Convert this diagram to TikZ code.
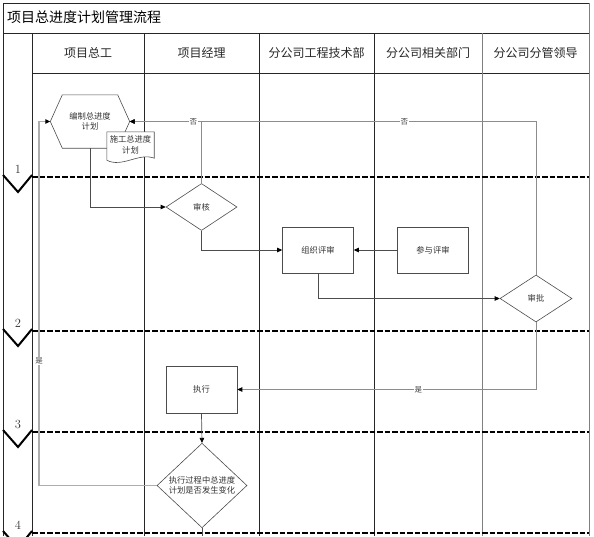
\documentclass[tikz,border=0pt]{standalone}
\usepackage{fontspec}
\newfontfamily\cjk{Noto Sans CJK SC}
\usetikzlibrary{arrows.meta,shapes.geometric}
\begin{document}
\begin{tikzpicture}[x=1pt,y=-1pt,
  lane/.style={draw=black!85,line width=0.8pt},
  lanegray/.style={draw=black!50,line width=0.8pt},
  phase/.style={line width=2.8pt,dash pattern=on 5.5pt off 2pt},
  chev/.style={line width=2pt,line join=miter},
  txt/.style={font=\cjk\fontsize{8.3}{10.5}\selectfont,text=black!80,align=center},
  box/.style={txt,draw=black!70,line width=0.6pt,minimum width=71pt,minimum height=46pt,inner sep=0pt},
  dia/.style={txt,diamond,draw=black!70,line width=0.6pt,inner sep=0pt},
  tip/.style={-{Triangle[length=5pt,width=4.5pt,color=black]}},
  conn/.style={tip,draw=black!70,line width=0.7pt},
  back/.style={tip,draw=black!45,line width=0.7pt},
  backL/.style={tip,draw=black!32,line width=1.5pt},
  lbl/.style={fill=white,inner sep=0.8pt,font=\cjk\fontsize{7.5}{9}\selectfont,text=black!75},
  head/.style={font=\cjk\fontsize{12}{14}\selectfont,text=black!85}
]
\useasboundingbox (0,0) rectangle (594,536);
% frame and lanes
\draw[lane] (3,536) -- (3,3) -- (589,3);
\draw[lanegray] (589,3) -- (589,536);
\draw[lane] (3,33) -- (589,33);
\draw[lane] (32,73) -- (589,73);
\foreach \x in {32,144,259,374} \draw[lane] (\x,33) -- (\x,536);
\draw[lanegray] (482,33) -- (482,536);
\node[anchor=west,font=\cjk\fontsize{14}{16}\selectfont,inner sep=0pt] (title) at (7,17.5) {项目总进度计划管理流程};
\node[head] (h1) at (88,53) {项目总工};
\node[head] (h2) at (201.5,53) {项目经理};
\node[head] (h3) at (316.5,53) {分公司工程技术部};
\node[head] (h4) at (428,53) {分公司相关部门};
\node[head] (h5) at (535.5,53) {分公司分管领导};
% phase separators
\foreach \y/\n in {177/1,331/2,432/3,533/4}{
  \draw[phase] (32,\y) -- (589,\y);
  \draw[chev] (3,\y-2) -- (18,\y+15) -- (32,\y-2);
  \node[anchor=south,font=\fontsize{12.5}{13}\selectfont,inner sep=0pt,text=black!80] (n\n) at (18,\y-3) {\n};
}
% hexagon
\node[txt,minimum width=79pt,minimum height=53pt,inner sep=0pt] (hex) at (90,121.5) {编制总进度\\计划};
\draw[draw=black!70,line width=0.6pt] (hex.west) -- ([xshift=12pt]hex.north west) -- ([xshift=-12pt]hex.north east) -- (hex.east) -- ([xshift=-12pt]hex.south east) -- ([xshift=12pt]hex.south west) -- cycle;
% document
\node[minimum width=47pt,minimum height=30pt,inner sep=0pt] (doc) at (130.5,147) {};
\filldraw[fill=white,draw=black!70,line width=0.6pt] ([yshift=2pt]doc.south west) -- (doc.north west) -- (doc.north east) -- ([yshift=4pt]doc.south east) .. controls ([xshift=-15pt,yshift=10pt]doc.south east) and ([xshift=15pt,yshift=-6pt]doc.south west) .. ([yshift=2pt]doc.south west);
\node[txt] (docT) at (130.5,145) {施工总进度\\计划};
% other nodes
\node[dia,minimum width=71pt,minimum height=47pt] (sh) at (201.5,207) {审核};
\node[box] (zz) at (318,250) {组织评审};
\node[box] (cy) at (433,250) {参与评审};
\node[dia,minimum width=72pt,minimum height=47pt] (sp) at (536,298.5) {审批};
\node[box,minimum height=47pt] (zx) at (201.5,389.5) {执行};
\node[dia,minimum width=90pt,minimum height=61pt] (cd) at (202,485.5) {执行过程中总进度\\计划是否发生变化};
\coordinate (lc) at (39,121.5);
\coordinate (bend) at (202,536);
% connectors
\draw[conn] (hex.south) |- (sh.west);
\draw[conn] (sh.south) |- (zz.west);
\draw[conn] (cy.west) -- (zz.east);
\draw[conn] (zz.south) |- (sp.west);
\draw[conn] (zx.south) -- (cd.north);
\draw[draw=black!70,line width=0.7pt] (cd.south) -- (bend);
\draw[back] (sp.north) |- (hex.east) node[lbl,pos=0.662] (l1) {否};
\draw[back] (sh.north) |- (hex.east) node[lbl,pos=0.556] (l2) {否};
\draw[back] (sp.south) |- (zx.east) node[lbl,pos=0.697] (l3) {是};
\draw[backL] (cd.west) -| (lc) -- (hex.west);
\node[lbl] (l4) at (39,361) {是};
\end{tikzpicture}
\end{document}
